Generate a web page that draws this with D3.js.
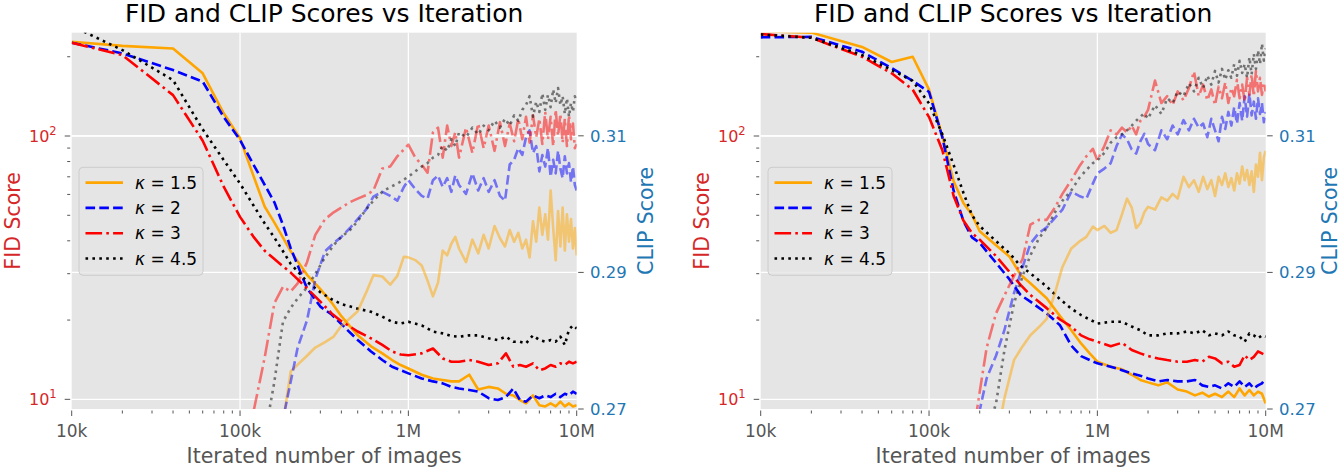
<!DOCTYPE html>
<html>
<head>
<meta charset="utf-8">
<script src="https://cdn.jsdelivr.net/npm/d3@7"></script>
<style>
  body { margin: 0; background: #fff; }
  svg { display: block; font-family: 'DejaVu Sans', sans-serif; }
</style>
</head>
<body>
<svg id="chart"></svg>
<script>
// --------------------------------------------------------------
// Data

const kappaLabels = ['1.5', '2', '3', '4.5']

// iterations (images seen) where FID was evaluated
const itersFID = [1e4, 2e4, 4e4, 6e4, 8e4, 1e5, 1.2e5, 1.4e5, 1.6e5, 1.8e5, 2e5,
  2.5e5, 3e5, 3.5e5, 4e5, 5e5, 6e5, 7e5, 8e5, 9e5, 1e6, 1.2e6, 1.4e6, 1.6e6, 1.8e6,
  2e6, 2.3e6, 2.6e6, 3e6, 3.4e6, 3.8e6, 4.2e6, 4.6e6, 5e6, 5.5e6, 6e6, 6.5e6, 7e6,
  7.5e6, 8e6, 8.5e6, 9e6, 9.5e6, 1e7]

// iterations where CLIP was evaluated
const itersCLIP = [1e5, 1.2e5, 1.4e5, 1.6e5, 1.8e5, 2e5, 2.2e5, 2.5e5, 2.8e5, 3.2e5,
  3.6e5, 4e5, 4.5e5, 5e5, 5.6e5, 6.2e5, 7e5, 7.8e5, 8.6e5, 9.4e5,
  1e6, 1.1e6, 1.2e6, 1.3e6, 1.4e6, 1.5e6, 1.6e6, 1.7e6, 1.8e6, 1.9e6,
  2e6, 2.2e6, 2.4e6, 2.6e6, 2.8e6, 3e6, 3.25e6, 3.5e6, 3.75e6, 4e6,
  4.25e6, 4.5e6, 4.75e6, 5e6, 5.25e6, 5.5e6, 5.75e6, 6e6, 6.25e6, 6.5e6,
  6.75e6, 7e6, 7.25e6, 7.5e6, 7.75e6, 8e6, 8.25e6, 8.5e6, 8.75e6, 9e6,
  9.25e6, 9.5e6, 9.75e6, 1e7]

// left panel, FID
const fidA15 = [228, 220, 215, 173, 122, 98, 70.7, 54, 46.9, 41.1, 36.5,
  29.7, 26.2, 23.3, 20.7, 17.5, 15.9, 14.95, 14.1, 13.5, 13.1, 12.4, 12.0, 11.85, 11.7,
  11.7, 12.4, 10.9, 11.15, 11.0, 10.5, 10.35, 9.94, 9.65, 10.35, 9.5, 9.4, 9.65,
  9.4, 9.8, 9.4, 9.65, 9.4, 9.5]
const fidA2 = [226, 206, 178, 161, 118, 96.6, 78, 65.3, 56, 45.9, 37.5,
  26.4, 22.5, 21.0, 19.3, 16.8, 15.2, 14.1, 13.3, 12.9, 12.55, 12.0, 11.7, 11.5, 11.15,
  11.0, 10.85, 10.7, 10.1, 9.94, 10.2, 11.0, 9.94, 9.8, 10.35, 10.1, 10.35, 10.2,
  10.5, 10.2, 10.5, 10.35, 10.7, 10.5]
const fidA3 = [226, 203, 143, 96, 64.2, 49.3, 41.5, 36.7, 34.1, 32.0, 30.3,
  26.4, 23.5, 21.2, 19.8, 18.1, 17.05, 16.1, 15.2, 14.8, 14.7, 14.95, 15.6, 14.3, 13.9,
  13.9, 14.1, 13.9, 13.5, 13.7, 14.95, 13.3, 13.5, 13.3, 13.7, 12.9, 13.1, 13.5,
  13.3, 13.7, 13.5, 13.9, 13.7, 13.9]
const fidA45 = [262, 212, 163, 106, 81, 66, 54.6, 46.6, 41.1, 36.5, 32.7,
  28.0, 25.5, 24.0, 23.0, 22.1, 21.5, 20.6, 19.7, 19.4, 19.7, 19.1, 18.1, 17.8, 17.4,
  17.3, 17.5, 17.5, 17.05, 16.8, 17.3, 16.55, 16.55, 16.3, 17.5, 16.8, 16.55, 16.8,
  16.55, 17.3, 16.1, 18.4, 19.1, 18.6]

// left panel, CLIP
const clipA15 = [0.25, 0.255, 0.26, 0.264, 0.268, 0.2755, 0.2765, 0.2778, 0.279, 0.2798,
  0.2806, 0.2822, 0.2833, 0.2843, 0.287, 0.2896, 0.2894, 0.2882, 0.2895, 0.2923,
  0.2922, 0.2918, 0.291, 0.2888, 0.2865, 0.2885, 0.2932, 0.2925, 0.2942, 0.2952,
  0.2935, 0.2915, 0.2948, 0.2928, 0.2955, 0.2935, 0.2968, 0.295, 0.2938, 0.2962,
  0.2945, 0.2958, 0.2935, 0.2948, 0.2922, 0.2975, 0.2945, 0.2995, 0.2955, 0.2985,
  0.2948, 0.302, 0.2965, 0.2918, 0.299, 0.2938, 0.2995, 0.2932, 0.2985, 0.2945,
  0.2978, 0.2935, 0.2965, 0.2925]
const clipA2 = [0.255, 0.258, 0.262, 0.265, 0.2685, 0.274, 0.279, 0.283, 0.289, 0.2931,
  0.2943, 0.2952, 0.2965, 0.2978, 0.2992, 0.3011, 0.3018, 0.3012, 0.3005, 0.3025,
  0.3035, 0.3022, 0.3012, 0.3008, 0.3035, 0.3042, 0.3025, 0.3038, 0.3018, 0.3042,
  0.3028, 0.3015, 0.3045, 0.302, 0.3038, 0.3018, 0.3035, 0.3012, 0.3005, 0.3058,
  0.3065, 0.3082, 0.3072, 0.3098, 0.3108, 0.3075, 0.3085, 0.3048, 0.3072, 0.3055,
  0.3082, 0.304, 0.3065, 0.3045, 0.3078, 0.3052, 0.3038, 0.307, 0.3045, 0.306,
  0.3032, 0.3055, 0.3028, 0.302]
const clipA3 = [0.262, 0.2695, 0.2775, 0.2855, 0.2879, 0.2872, 0.2884, 0.2915, 0.2955, 0.2978,
  0.2988, 0.2995, 0.3003, 0.3008, 0.3013, 0.302, 0.3052, 0.3055, 0.307, 0.308,
  0.3087, 0.3068, 0.3058, 0.3046, 0.3105, 0.3112, 0.3068, 0.3115, 0.3085, 0.3105,
  0.3068, 0.3112, 0.3075, 0.3118, 0.3082, 0.3115, 0.3078, 0.312, 0.3085, 0.3118,
  0.3092, 0.3125, 0.3095, 0.3128, 0.309, 0.313, 0.3098, 0.3125, 0.3088, 0.3135,
  0.3095, 0.3128, 0.3085, 0.3138, 0.31, 0.3132, 0.309, 0.3125, 0.3085, 0.313,
  0.3095, 0.3118, 0.3082, 0.3088]
const clipA45 = [0.258, 0.262, 0.266, 0.274, 0.2828, 0.2848, 0.2862, 0.2878, 0.2898, 0.2922,
  0.294, 0.2952, 0.2962, 0.2975, 0.2992, 0.3005, 0.3018, 0.3025, 0.303, 0.3036,
  0.304, 0.3048, 0.3055, 0.306, 0.3068, 0.3072, 0.3085, 0.3078, 0.3095, 0.3085,
  0.3105, 0.3098, 0.3112, 0.3102, 0.3115, 0.3108, 0.3122, 0.3112, 0.3125, 0.3115,
  0.313, 0.3122, 0.3138, 0.3145, 0.3158, 0.3128, 0.315, 0.3135, 0.3162, 0.3138,
  0.316, 0.3142, 0.3168, 0.3148, 0.317, 0.3145, 0.3158, 0.3132, 0.3155, 0.3128,
  0.3148, 0.3135, 0.3158, 0.3152]

// right panel, FID
const fidB15 = [250, 247, 218, 191, 200, 150, 100, 67.3, 55.7, 50.2, 43.5,
  38.5, 34.9, 29.7, 27.6, 24.2, 20.7, 18.3, 16.3, 14.95, 13.9, 13.3, 13.0, 12.4, 11.85,
  11.6, 11.3, 11.6, 10.9, 10.7, 10.35, 10.6, 10.25, 10.5, 10.2, 10.7, 10.2, 11.0,
  10.35, 10.85, 10.35, 10.7, 10.5, 9.65]
const fidB2 = [237, 238, 209, 181, 162, 147, 98.9, 62, 47.6, 41.2, 39.3,
  33, 28.6, 24.9, 23.5, 21.2, 19.1, 16.0, 14.6, 14.1, 13.7, 13.3, 12.9, 12.55, 12.3,
  12.0, 11.7, 11.85, 11.7, 11.7, 11.85, 11.3, 11.15, 11.3, 11.0, 11.5, 11.15, 11.7,
  11.15, 11.5, 11.0, 11.3, 11.5, 12.0]
const fidB3 = [244, 236, 200, 173, 150, 118, 88.3, 59.2, 47.8, 42.8, 40.4,
  35.0, 30.5, 27.2, 24.9, 22.2, 20.1, 18.9, 17.5, 16.9, 16.55, 15.9, 16.4, 15.4, 14.95,
  14.6, 14.3, 14.1, 13.9, 13.9, 14.1, 13.9, 14.5, 14.3, 13.7, 13.9, 13.3, 13.5,
  14.7, 14.1, 14.5, 15.2, 14.95, 14.7]
const fidB45 = [243, 236, 203, 178, 162, 133, 101.5, 77.6, 60.9, 50, 45.5,
  39.9, 35.9, 32.1, 30.1, 26.8, 24.0, 22.1, 20.9, 20.1, 19.4, 19.7, 19.7, 18.9, 18.3,
  17.5, 17.5, 17.8, 17.8, 18.1, 17.8, 18.3, 17.5, 17.8, 17.5, 18.1, 17.5, 17.3,
  16.55, 17.8, 17.5, 17.05, 17.5, 17.3]

// right panel, CLIP
const clipB15 = [0.23, 0.235, 0.24, 0.245, 0.25, 0.255, 0.259, 0.265, 0.2715, 0.2772,
  0.2792, 0.2808, 0.282, 0.2832, 0.287, 0.2908, 0.2935, 0.2945, 0.2952, 0.2967,
  0.2962, 0.2968, 0.2958, 0.2962, 0.2985, 0.3008, 0.2995, 0.2965, 0.2972, 0.2988,
  0.2996, 0.2992, 0.301, 0.3005, 0.3015, 0.3008, 0.304, 0.3025, 0.3035, 0.3018,
  0.304, 0.3022, 0.3035, 0.3012, 0.304, 0.3028, 0.3045, 0.3025, 0.3038, 0.302,
  0.3045, 0.303, 0.3055, 0.3035, 0.305, 0.3028, 0.3048, 0.3018, 0.3058, 0.304,
  0.3075, 0.3035, 0.3068, 0.3078]
const clipB2 = [0.24, 0.246, 0.252, 0.258, 0.264, 0.2698, 0.2745, 0.2778, 0.2815, 0.287,
  0.2908, 0.2942, 0.2958, 0.2966, 0.298, 0.2992, 0.3018, 0.3012, 0.3008, 0.303,
  0.3045, 0.3052, 0.306, 0.3085, 0.3102, 0.3095, 0.308, 0.3074, 0.3092, 0.3103,
  0.3088, 0.3079, 0.3108, 0.3095, 0.3115, 0.3102, 0.3123, 0.3108, 0.3125, 0.3112,
  0.3118, 0.3098, 0.3125, 0.3108, 0.3092, 0.3128, 0.311, 0.3135, 0.3115, 0.3142,
  0.3118, 0.3148, 0.3122, 0.3158, 0.3128, 0.3162, 0.313, 0.315, 0.3125, 0.3155,
  0.3132, 0.3148, 0.312, 0.3135]
const clipB3 = [0.245, 0.25, 0.255, 0.26, 0.265, 0.2725, 0.279, 0.284, 0.2866, 0.2895,
  0.292, 0.297, 0.2977, 0.2977, 0.2995, 0.3015, 0.3035, 0.3055, 0.307, 0.3081,
  0.3064, 0.3085, 0.3108, 0.3102, 0.3112, 0.3105, 0.3115, 0.3102, 0.3122, 0.3128,
  0.3138, 0.3181, 0.3148, 0.3158, 0.3145, 0.3165, 0.3152, 0.317, 0.3194, 0.3158,
  0.3175, 0.3152, 0.3168, 0.3145, 0.3172, 0.3155, 0.3178, 0.3148, 0.317, 0.3158,
  0.3182, 0.3155, 0.3175, 0.315, 0.3185, 0.316, 0.319, 0.3158, 0.3195, 0.3165,
  0.3185, 0.316, 0.3178, 0.3165]
const clipB45 = [0.235, 0.24, 0.246, 0.252, 0.258, 0.263, 0.2665, 0.2708, 0.2785, 0.2855,
  0.2895, 0.2925, 0.295, 0.2965, 0.2988, 0.3005, 0.302, 0.3038, 0.305, 0.306,
  0.3064, 0.3075, 0.309, 0.3098, 0.3102, 0.3108, 0.3115, 0.3122, 0.3128, 0.3133,
  0.3125, 0.3145, 0.3132, 0.3155, 0.3148, 0.3165, 0.3158, 0.3177, 0.3165, 0.3185,
  0.317, 0.3188, 0.3175, 0.3195, 0.3178, 0.3198, 0.3182, 0.3196, 0.3185, 0.3205,
  0.3188, 0.321, 0.3192, 0.3205, 0.3185, 0.3215, 0.319, 0.322, 0.3198, 0.3225,
  0.3205, 0.3235, 0.321, 0.3228]

// axis domains and ticks
const iterDomain = [1e4, 1e7]
const fidDomain = [9.19, 246.8]
const clipDomain = [0.27, 0.3251]
const iterTicks = [1e4, 1e5, 1e6, 1e7]
const iterTickLabels = ['10k', '100k', '1M', '10M']
const fidTicks = [10, 100]
const fidExponents = ['1', '2']
const clipTicks = [0.27, 0.29, 0.31]

// --------------------------------------------------------------
// Layout

const width = 1342
const height = 468
const plotTop = 32.7
const plotBottom = 409
const plotWidth = 505

const svg = d3.select('#chart').attr('width', width).attr('height', height)

const lw = 2.6
const styles = [
  { color: 'orange', dash: null },
  { color: 'blue', dash: '9.6,4.2' },
  { color: 'red', dash: '16.6,4.2,2.6,4.2' },
  { color: 'black', dash: '2.6,4.3' },
]

const panels = [
  { id: 'a', left: 71.7, clipLabelX: 653, fid: [fidA15, fidA2, fidA3, fidA45], clip: [clipA15, clipA2, clipA3, clipA45] },
  { id: 'b', left: 760.7, clipLabelX: 1336.5, fid: [fidB15, fidB2, fidB3, fidB45], clip: [clipB15, clipB2, clipB3, clipB45] },
]

const fidColor = '#d62728'
const clipColor = '#1f77b4'
const tickColor = '#555555'

// --------------------------------------------------------------
// Draw one panel
const drawPanel = function (p) {
  const x0 = p.left
  const x1 = p.left + plotWidth
  const x = d3.scaleLog().domain(iterDomain).range([x0, x1])
  const yF = d3.scaleLog().domain(fidDomain).range([plotBottom, plotTop])
  const yC = d3.scaleLinear().domain(clipDomain).range([plotBottom, plotTop])

  const g = svg.append('g').attr('class', 'panel-' + p.id)

  // background
  g.append('rect')
    .attr('x', x0)
    .attr('y', plotTop)
    .attr('width', plotWidth)
    .attr('height', plotBottom - plotTop)
    .attr('fill', '#e5e5e5')

  // grid (major ticks of both y axes and of x)
  const grid = g.append('g').attr('stroke', '#ffffff').attr('stroke-width', 1.3)
  grid.append('g')
    .selectAll('line')
    .data(iterTicks.slice(1, -1))
    .join('line')
    .attr('x1', (d) => x(d))
    .attr('x2', (d) => x(d))
    .attr('y1', plotTop)
    .attr('y2', plotBottom)
  grid.append('g')
    .selectAll('line')
    .data(fidTicks)
    .join('line')
    .attr('x1', x0)
    .attr('x2', x1)
    .attr('y1', (d) => yF(d))
    .attr('y2', (d) => yF(d))
  grid.append('g')
    .selectAll('line')
    .data(clipTicks.slice(1))
    .join('line')
    .attr('x1', x0)
    .attr('x2', x1)
    .attr('y1', (d) => yC(d))
    .attr('y2', (d) => yC(d))

  // clip to the plot area
  svg.append('clipPath')
    .attr('id', 'clip-' + p.id)
    .append('rect')
    .attr('x', x0)
    .attr('y', plotTop)
    .attr('width', plotWidth)
    .attr('height', plotBottom - plotTop)

  const fidLine = d3.line().x((d) => x(d[0])).y((d) => yF(d[1]))
  const clipLine = d3.line().x((d) => x(d[0])).y((d) => yC(d[1]))

  const lines = g.append('g').attr('clip-path', 'url(#clip-' + p.id + ')')

  lines.selectAll('path.fid')
    .data(p.fid)
    .join('path')
    .attr('class', 'fid')
    .attr('d', (d) => fidLine(d3.zip(itersFID, d)))
    .attr('fill', 'none')
    .attr('stroke', (d, i) => styles[i].color)
    .attr('stroke-width', lw)
    .attr('stroke-dasharray', (d, i) => styles[i].dash)
    .attr('stroke-linejoin', 'round')

  lines.selectAll('path.clip')
    .data(p.clip)
    .join('path')
    .attr('class', 'clip')
    .attr('d', (d) => clipLine(d3.zip(itersCLIP, d)))
    .attr('fill', 'none')
    .attr('stroke', (d, i) => styles[i].color)
    .attr('stroke-opacity', 0.5)
    .attr('stroke-width', lw)
    .attr('stroke-dasharray', (d, i) => styles[i].dash)
    .attr('stroke-linejoin', 'round')

  // legend
  const lg = g.append('g').attr('transform', `translate(${x0 + 7.3},167.3)`)
  lg.append('rect')
    .attr('width', 124)
    .attr('height', 108)
    .attr('rx', 4)
    .attr('fill', '#e5e5e5')
    .attr('fill-opacity', 0.8)
    .attr('stroke', '#cccccc')
    .attr('stroke-width', 1)
  const rows = lg.selectAll('g.row')
    .data(kappaLabels)
    .join('g')
    .attr('transform', (d, i) => `translate(0,${15.3 + i * 25.3})`)
  rows.append('line')
    .attr('x1', 6.5)
    .attr('x2', 44)
    .attr('stroke', (d, i) => styles[i].color)
    .attr('stroke-width', lw)
    .attr('stroke-dasharray', (d, i) => styles[i].dash)
  const lt = rows.append('text')
    .attr('x', 56)
    .attr('y', 6.2)
    .attr('font-size', 17)
    .attr('fill', '#000')
  lt.append('tspan').attr('font-style', 'italic').text('κ')
  lt.append('tspan').text((d) => ' = ' + d)

  // x axis ticks
  const minorX = []
  ;[1e4, 1e5, 1e6].forEach((b) => {
    for (let k = 2; k <= 9; k++) minorX.push(b * k)
  })
  const ax = g.append('g').attr('stroke', tickColor).attr('stroke-width', 1)
  ax.append('g')
    .selectAll('line')
    .data(iterTicks)
    .join('line')
    .attr('x1', (d) => x(d))
    .attr('x2', (d) => x(d))
    .attr('y1', plotBottom + 1.5)
    .attr('y2', plotBottom + 7)
  ax.append('g')
    .selectAll('line')
    .data(minorX)
    .join('line')
    .attr('x1', (d) => x(d))
    .attr('x2', (d) => x(d))
    .attr('y1', plotBottom + 1.5)
    .attr('y2', plotBottom + 4.5)
  g.append('g')
    .selectAll('text')
    .data(iterTicks)
    .join('text')
    .attr('x', (d) => x(d))
    .attr('y', 437)
    .attr('text-anchor', 'middle')
    .attr('font-size', 17)
    .attr('fill', tickColor)
    .text((d, i) => iterTickLabels[i])

  // left (FID) ticks
  const minorF = [20, 30, 40, 50, 60, 70, 80, 90, 200]
  const ay = g.append('g').attr('stroke', tickColor).attr('stroke-width', 1)
  ay.append('g')
    .selectAll('line')
    .data(fidTicks)
    .join('line')
    .attr('x1', x0 - 1.5)
    .attr('x2', x0 - 7)
    .attr('y1', (d) => yF(d))
    .attr('y2', (d) => yF(d))
  ay.append('g')
    .selectAll('line')
    .data(minorF)
    .join('line')
    .attr('x1', x0 - 1.5)
    .attr('x2', x0 - 4.5)
    .attr('y1', (d) => yF(d))
    .attr('y2', (d) => yF(d))
  const fl = g.append('g')
    .selectAll('text')
    .data(fidTicks)
    .join('text')
    .attr('x', x0 - 15)
    .attr('y', (d) => yF(d) + 5.7)
    .attr('text-anchor', 'end')
    .attr('font-size', 16)
    .attr('fill', fidColor)
  fl.append('tspan').text('10')
  fl.append('tspan')
    .attr('dy', -7)
    .attr('font-size', 11.5)
    .text((d, i) => fidExponents[i])

  // right (CLIP) ticks
  g.append('g')
    .attr('stroke', tickColor)
    .attr('stroke-width', 1)
    .selectAll('line')
    .data(clipTicks)
    .join('line')
    .attr('x1', x1 + 1.5)
    .attr('x2', x1 + 7)
    .attr('y1', (d) => yC(d))
    .attr('y2', (d) => yC(d))
  g.append('g')
    .selectAll('text')
    .data(clipTicks)
    .join('text')
    .attr('x', x1 + 13.3)
    .attr('y', (d) => yC(d) + 6)
    .attr('font-size', 16.5)
    .attr('fill', clipColor)
    .text((d) => d3.format('.2f')(d))

  // labels
  const midY = (plotTop + plotBottom) / 2
  g.append('text')
    .attr('x', (x0 + x1) / 2)
    .attr('y', 22)
    .attr('text-anchor', 'middle')
    .attr('font-size', 25)
    .attr('fill', '#000')
    .text('FID and CLIP Scores vs Iteration')
  g.append('text')
    .attr('x', (x0 + x1) / 2)
    .attr('y', 463)
    .attr('text-anchor', 'middle')
    .attr('font-size', 20.5)
    .attr('fill', tickColor)
    .text('Iterated number of images')
  g.append('text')
    .attr('transform', `translate(${x0 - 52},${midY}) rotate(-90)`)
    .attr('text-anchor', 'middle')
    .attr('font-size', 20.5)
    .attr('fill', fidColor)
    .text('FID Score')
  g.append('text')
    .attr('transform', `translate(${p.clipLabelX},${midY}) rotate(-90)`)
    .attr('text-anchor', 'middle')
    .attr('font-size', 20.5)
    .attr('fill', clipColor)
    .text('CLIP Score')
}

panels.forEach(drawPanel)
</script>
</body>
</html>
